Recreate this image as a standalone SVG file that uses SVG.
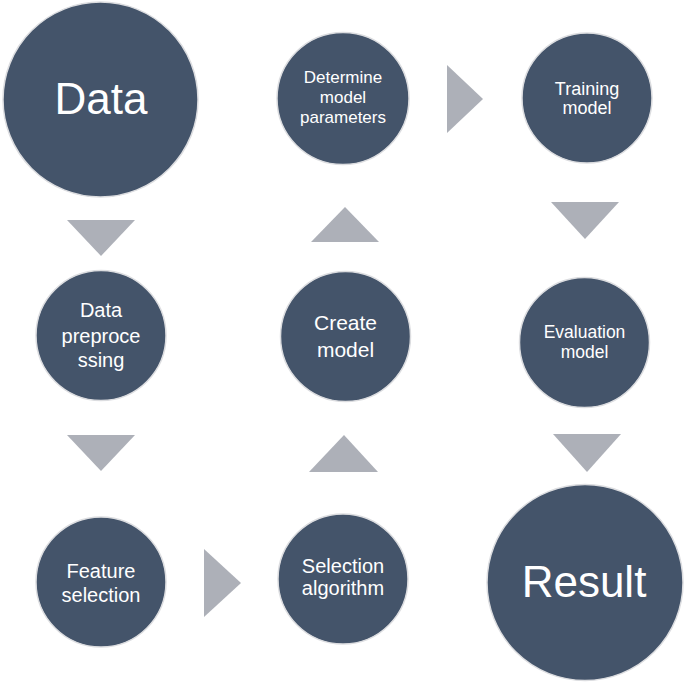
<svg xmlns="http://www.w3.org/2000/svg" width="685" height="684" viewBox="0 0 685 684">
<style>
.n{fill:#44546A;stroke:#dcdde0;stroke-width:1.5}
.t{fill:#ffffff;font-family:"Liberation Sans",Arial,sans-serif;text-anchor:middle}
.a{fill:#ADB0B8}
</style>
<rect width="685" height="684" fill="#ffffff"/>
<g id="connectors">
<polygon class="a" points="67,220 135,220 101,256"/>
<polygon class="a" points="67,435 135,435 101,471"/>
<polygon class="a" points="204,549 241,583 204,617"/>
<polygon class="a" points="309,472 378,472 344,435"/>
<polygon class="a" points="311,242 379,242 345,207"/>
<polygon class="a" points="447,65 483,99 447,133"/>
<polygon class="a" points="551,202 619,202 585,239"/>
<polygon class="a" points="553,434 621,434 587,472"/>
</g>
<g id="data">
<circle class="n" cx="100.5" cy="99.5" r="97.5"/>
<text class="t" x="101" y="114" font-size="44">Data</text>
</g>
<g id="preprocessing">
<circle class="n" cx="101" cy="335.5" r="65"/>
<text class="t" x="101" y="317" font-size="20">Data</text>
<text class="t" x="101" y="343" font-size="20">preproce</text>
<text class="t" x="101" y="367" font-size="20">ssing</text>
</g>
<g id="feature">
<circle class="n" cx="101" cy="582" r="65"/>
<text class="t" x="101" y="578" font-size="20">Feature</text>
<text class="t" x="101" y="602" font-size="20">selection</text>
</g>
<g id="algorithm">
<circle class="n" cx="343" cy="579" r="65"/>
<text class="t" x="343" y="573" font-size="20">Selection</text>
<text class="t" x="343" y="595" font-size="20">algorithm</text>
</g>
<g id="create">
<circle class="n" cx="345.5" cy="336.5" r="65"/>
<text class="t" x="345.5" y="330" font-size="21">Create</text>
<text class="t" x="345.5" y="357" font-size="21">model</text>
</g>
<g id="determine">
<circle class="n" cx="343" cy="98.5" r="66"/>
<text class="t" x="343" y="83" font-size="17">Determine</text>
<text class="t" x="343" y="103" font-size="17">model</text>
<text class="t" x="343" y="123" font-size="17">parameters</text>
</g>
<g id="training">
<circle class="n" cx="587" cy="98" r="65"/>
<text class="t" x="587" y="95" font-size="18">Training</text>
<text class="t" x="587" y="114" font-size="18">model</text>
</g>
<g id="evaluation">
<circle class="n" cx="584.5" cy="342.5" r="65"/>
<text class="t" x="584.5" y="338" font-size="17.5">Evaluation</text>
<text class="t" x="584.5" y="358" font-size="17.5">model</text>
</g>
<g id="result">
<circle class="n" cx="585" cy="582.5" r="98"/>
<text class="t" x="584" y="597" font-size="44">Result</text>
</g>
</svg>
